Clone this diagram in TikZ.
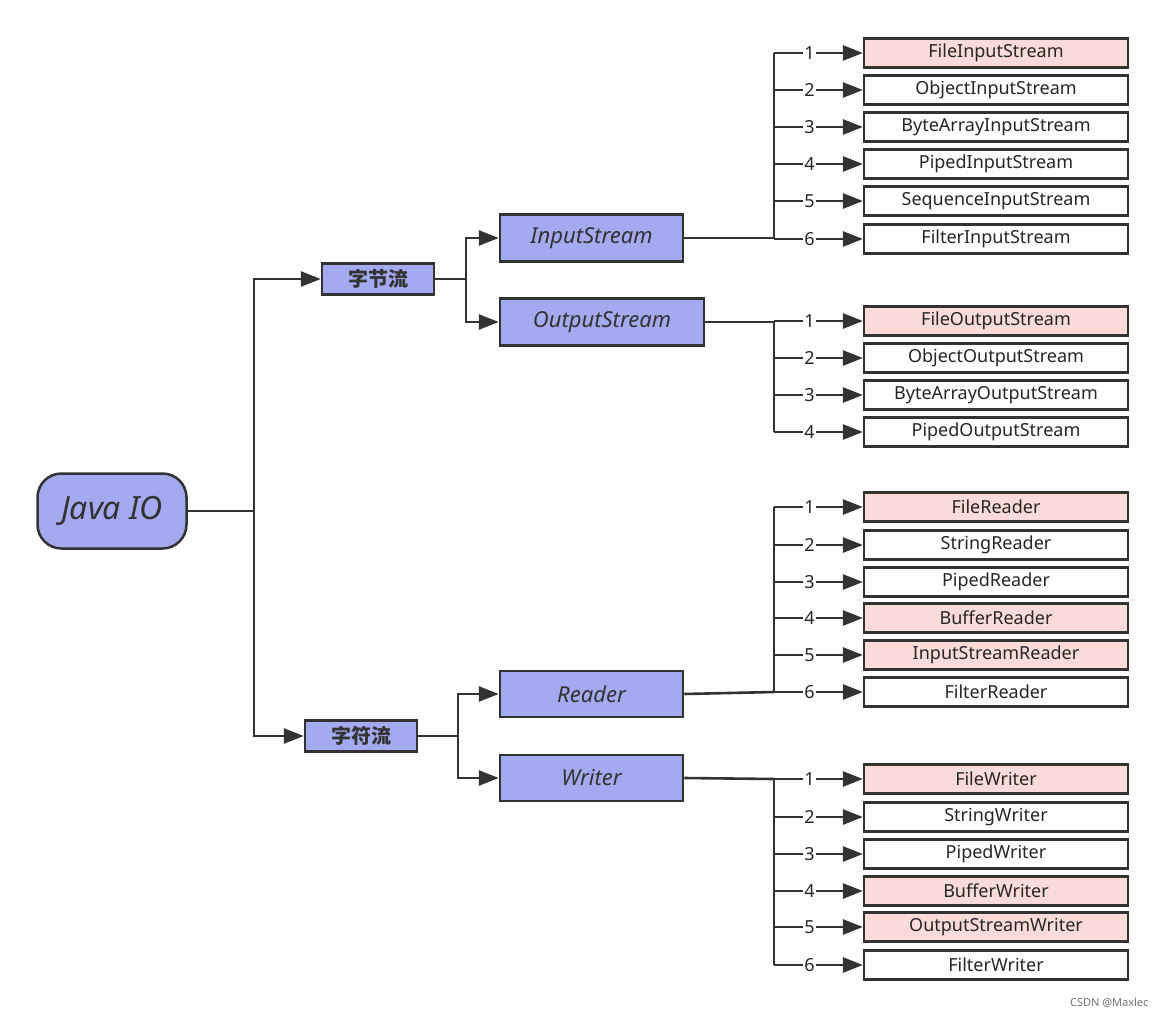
\documentclass[tikz,border=0pt]{standalone}
\usepackage{fontspec}
\setmainfont{Noto Sans}
\newfontfamily\cjk{Noto Sans CJK SC}[BoldFont={* Bold},AutoFakeSlant=0.2]
\usetikzlibrary{arrows.meta}
\definecolor{mainb}{HTML}{A3AAF0}
\definecolor{pinkb}{HTML}{FADBDA}
\definecolor{lnc}{HTML}{333333}
\begin{document}
\begin{tikzpicture}[x=1pt,y=-1pt,
  conn/.style={draw=lnc,line width=2.6pt},
  arr/.style={conn,-{Triangle[length=20pt,width=15pt]}},
  mbox/.style={draw=lnc,line width=2.5pt,fill=mainb,text=lnc,font=\fontsize{22}{24}\selectfont\bfseries\itshape,inner sep=0pt},
  cbox/.style={draw=lnc,line width=2.5pt,fill=mainb,text=lnc,font=\cjk\fontsize{20}{22}\selectfont\bfseries\itshape,inner sep=0pt,minimum width=112pt,minimum height=31pt},
  leaf/.style={draw=lnc,line width=2.2pt,text=black!85,font=\fontsize{18}{20}\selectfont,minimum width=264pt,minimum height=29pt,inner sep=0pt},
  num/.style={fill=white,text=black!85,font=\fontsize{18}{20}\selectfont,inner sep=1pt}]
\useasboundingbox (0,0) rectangle (1165,1017);
\node[mbox,rounded corners=24pt,minimum width=149pt,minimum height=75pt,font=\fontsize{32}{34}\selectfont\bfseries\itshape] (java) at (112,511) {Java IO};
\node[cbox] (zj) at (378,279) {字节流};
\node[cbox] (zf) at (361,736) {字符流};
\node[mbox,minimum width=183pt,minimum height=47pt] (in) at (591.5,238) {InputStream};
\node[mbox,minimum width=204pt,minimum height=47pt] (out) at (602,322) {OutputStream};
\node[mbox,minimum width=183pt,minimum height=46pt] (rd) at (591.5,694) {Reader};
\node[mbox,minimum width=183pt,minimum height=46pt] (wr) at (591.5,778) {Writer};
\coordinate (j1) at (254,511);
\draw[conn] (java.east) -- (j1);
\draw[arr] (j1) |- (zj.west);
\draw[arr] (j1) |- (zf.west);
\coordinate (z1) at (466,279);
\draw[conn] (zj.east) -- (z1);
\draw[arr] (z1) |- (in.west);
\draw[arr] (z1) |- (out.west);
\coordinate (z2) at (458,736);
\draw[conn] (zf.east) -- (z2);
\draw[arr] (z2) |- (rd.west);
\draw[arr] (z2) |- (wr.west);
% leaves
\newcommand\leafgroup[4]{% parent, prefix, trunk y, list
  \coordinate (#2t) at (774,#3);
  \draw[conn] (#1.east) -- (#2t);
  \foreach \yy/\txt/\fc [count=\i] in {#4} {
    \node[leaf,fill=\fc] (#2\i) at (996,\yy) {\txt};
    \coordinate (#2b\i) at (774,\yy);
    \draw[conn] (#2t) -- (#2b\i);
    \draw[arr] (#2b\i) -- node[num,pos=0.4]{\i} (#2\i.west);
  }
}
\leafgroup{in}{a}{238}{53/FileInputStream/pinkb,90/ObjectInputStream/white,127/ByteArrayInputStream/white,164/PipedInputStream/white,201/SequenceInputStream/white,239/FilterInputStream/white}
\leafgroup{out}{b}{322}{321/FileOutputStream/pinkb,358/ObjectOutputStream/white,395/ByteArrayOutputStream/white,432/PipedOutputStream/white}
\leafgroup{rd}{c}{692}{507/FileReader/pinkb,545/StringReader/white,582/PipedReader/white,618/BufferReader/pinkb,655/InputStreamReader/pinkb,692/FilterReader/white}
\leafgroup{wr}{d}{779}{779/FileWriter/pinkb,817/StringWriter/white,854/PipedWriter/white,891/BufferWriter/pinkb,927/OutputStreamWriter/pinkb,965/FilterWriter/white}
\node[text=black!55,font=\fontsize{11}{12}\selectfont,anchor=east] (wm) at (1152,1003) {CSDN @Maxlec};
\end{tikzpicture}
\end{document}
